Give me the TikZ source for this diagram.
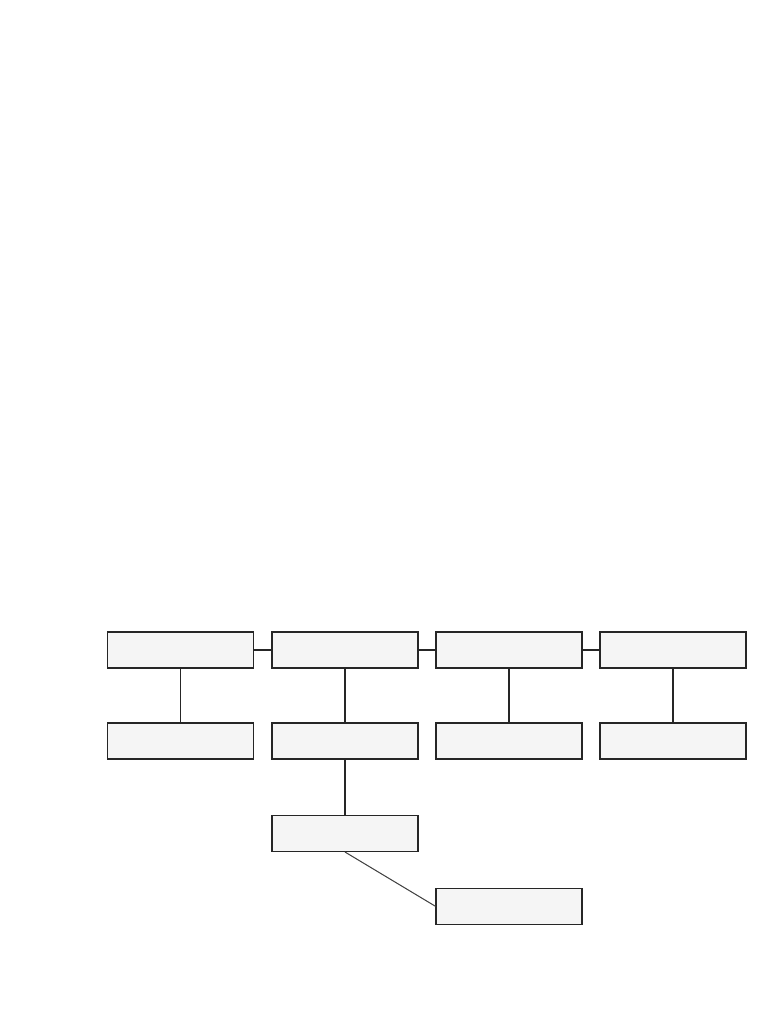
\documentclass[tikz,border=0pt]{standalone}
\begin{document}
\begin{tikzpicture}[x=0.02cm,y=-0.02cm]
\tikzset{box/.style={draw=black!85,fill=black!4,line width=0.6pt,minimum width=2.92cm,minimum height=0.72cm,inner sep=0pt}}
\useasboundingbox (0,0) rectangle (768,1024);
\foreach \n/\x in {1/180.5,2/345,3/509,4/673}
{
    \node[box](a\n) at (\x,650){};
    \node[box](b\n) at (\x,741){};
    \draw[line width=0.6pt,black!85](a\n)--(b\n);
}
\foreach \i/\j in {1/2,2/3,3/4}
{
    \draw[line width=0.6pt,black!85](a\i)--(a\j);
}
\node[box](c) at (345,833.5){};
\node[box](d) at (509,906.3){};
\draw[line width=0.6pt,black!85](b2)--(c);
\draw[line width=0.6pt,black!75](c.south)--(d.west);
\end{tikzpicture}
\end{document}
